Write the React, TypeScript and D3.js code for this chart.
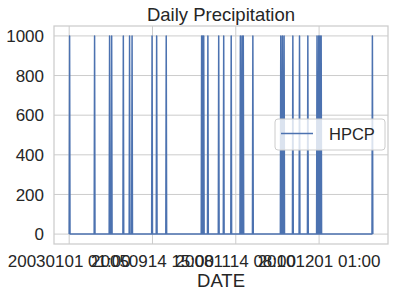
import React from "react";
import * as d3 from "d3";

const title = "Daily Precipitation";
const xLabel = "DATE";
const seriesName = "HPCP";
const pointCount = 730;
const missingValue = 999.99;
const spikeIndex = [1, 61, 97, 102, 130, 145, 151, 199, 210, 233, 318, 320, 323, 333, 359, 371, 389, 411, 415, 418, 441, 508, 512, 516, 537, 553, 573, 595, 599, 602, 605, 728];
const xTickIndex = [0, 200, 400, 600];
const xTickLabels = ["20030101 01:00", "20050914 15:00", "20081114 08:00", "20101201 01:00"];
const yTicks = [0, 200, 400, 600, 800, 1000];

export default function App() {
  const W = 395, H = 298;
  const L = 54, R = 388, T = 26, B = 244;
  const values: number[] = new Array(pointCount).fill(0);
  spikeIndex.forEach((i) => { values[i] = missingValue; });
  const n = pointCount - 1;
  const x = d3.scaleLinear().domain([-0.05 * n, n * 1.05]).range([L, R]);
  const y = d3.scaleLinear().domain([-0.05 * missingValue, missingValue * 1.05]).range([B, T]);
  const line = d3.line<number>().x((_, i) => x(i)).y((d) => y(d));
  const font = "'Liberation Sans', Arial, sans-serif";
  const txt = "#262626";
  return (
    <svg width={W} height={H} style={{ position: "absolute", left: 0, top: 0 }} fontFamily={font}>
      <rect width={W} height={H} fill="#fff" />
      {yTicks.map((t) => (
        <line key={"gy" + t} x1={L} x2={R} y1={y(t)} y2={y(t)} stroke="#cccccc" strokeWidth={1} />
      ))}
      {xTickIndex.map((t) => (
        <line key={"gx" + t} x1={x(t)} x2={x(t)} y1={T} y2={B} stroke="#cccccc" strokeWidth={1} />
      ))}
      <path d={line(values) || ""} fill="none" stroke="#4c72b0" strokeWidth={1.5} strokeLinejoin="round" />
      <rect x={L} y={T} width={R - L} height={B - T} fill="none" stroke="#cccccc" strokeWidth={1.25} />
      {yTicks.map((t) => (
        <text key={"ty" + t} x={L - 10} y={y(t)} dy="0.36em" textAnchor="end" fontSize={17} fill={txt}>{t}</text>
      ))}
      {xTickIndex.map((t, i) => (
        <text key={"tx" + t} x={x(t)} y={267} textAnchor="middle" fontSize={17} fill={txt}>{xTickLabels[i]}</text>
      ))}
      <text x={(L + R) / 2} y={21} textAnchor="middle" fontSize={18.5} fill={txt}>{title}</text>
      <text x={(L + R) / 2} y={286.5} textAnchor="middle" fontSize={18.5} fill={txt}>{xLabel}</text>
      <g>
        <rect x={275} y={119} width={110} height={31} rx={3} fill="#fff" fillOpacity={0.8} stroke="#cccccc" strokeWidth={1} />
        <line x1={281} x2={313} y1={133.5} y2={133.5} stroke="#4c72b0" strokeWidth={1.5} />
        <text x={329} y={140} fontSize={16.5} fill={txt}>{seriesName}</text>
      </g>
    </svg>
  );
}
